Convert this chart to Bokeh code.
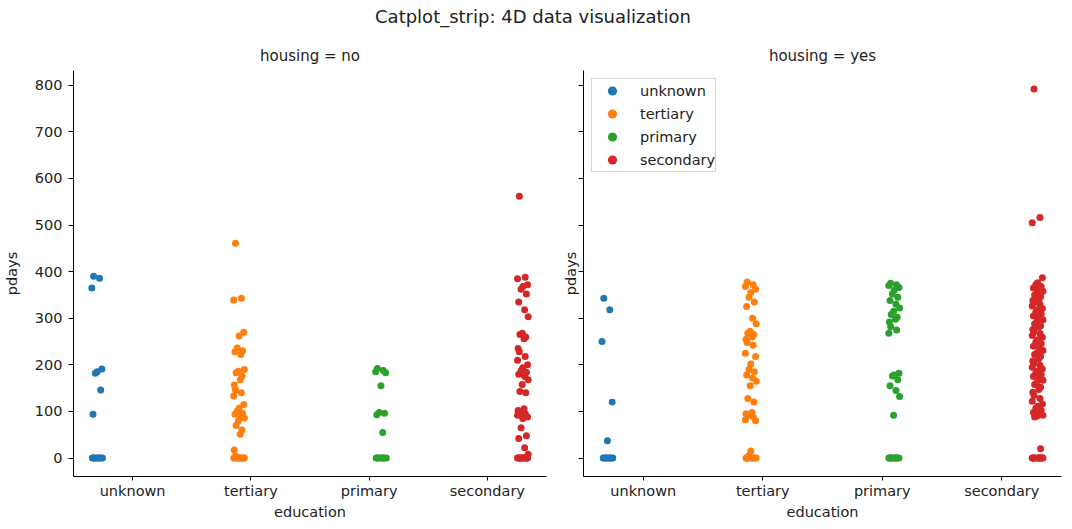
from bokeh.plotting import figure
from bokeh.layouts import column, row
from bokeh.models import Range1d, FixedTicker, Div, Legend, LegendItem, ColumnDataSource
from bokeh.embed import file_html
from bokeh.resources import INLINE

education = ["unknown", "tertiary", "primary", "secondary"]
colors = ["#1f77b4", "#ff7f0e", "#2ca02c", "#d62728"]
y_ticks = [0, 100, 200, 300, 400, 500, 600, 700, 800]

# housing = no
no_unknown = [390, 386, 365, 191, 185, 182, 146, 94, 0, 0, 0, 0, 0, 0, 0, 0]
no_tertiary = [461, 343, 339, 270, 262, 236, 230, 228, 222, 190, 186, 183, 176, 168,
               157, 146, 140, 133, 115, 107, 101, 96, 94, 90, 86, 80, 70, 60, 51, 17, 5,
               0, 0, 0, 0, 0, 0, 0, 0, 0, 0]
no_primary = [192, 188, 185, 183, 155, 98, 96, 93, 55, 0, 0, 0, 0, 0, 0, 0, 0]
no_secondary = [562, 388, 385, 372, 368, 362, 352, 335, 318, 303, 268, 265, 260, 256,
                235, 228, 218, 210, 200, 194, 188, 184, 180, 175, 168, 158, 143, 140,
                106, 102, 98, 95, 92, 88, 85, 65, 48, 42, 22, 8,
                0, 0, 0, 0, 0, 0, 0, 0, 0, 0, 0, 0]

# housing = yes
yes_unknown = [343, 318, 250, 120, 37, 0, 0, 0, 0, 0, 0, 0, 0]
yes_tertiary = [378, 372, 368, 362, 355, 345, 335, 325, 300, 288, 272, 268, 265, 260,
                255, 248, 242, 225, 218, 202, 190, 185, 178, 172, 165, 155, 128, 120,
                98, 95, 92, 88, 82, 80, 15, 5, 0, 0, 0, 0, 0, 0, 0, 0, 0, 0]
yes_primary = [375, 372, 370, 366, 360, 352, 345, 338, 330, 322, 315, 308, 302, 298,
               292, 282, 275, 268, 182, 178, 176, 168, 155, 145, 132, 92,
               0, 0, 0, 0, 0, 0, 0, 0, 0, 0]
yes_secondary = [792, 516, 505, 387, 376, 372, 368, 365, 362, 358, 354, 350, 346, 341,
                 338, 334, 330, 326, 321, 318, 313, 309, 305, 301, 297, 293, 288, 284,
                 281, 276, 271, 267, 263, 259, 254, 249, 245, 240, 236, 231, 226, 222,
                 218, 213, 208, 203, 199, 195, 191, 187, 183, 179, 175, 171, 167, 162,
                 158, 152, 147, 141, 135, 128, 122, 116, 111, 107, 102, 98, 95, 92, 90,
                 88, 20, 0, 0, 0, 0, 0, 0, 0, 0, 0, 0, 0, 0]

panels = [
    ("housing = no", [no_unknown, no_tertiary, no_primary, no_secondary]),
    ("housing = yes", [yes_unknown, yes_tertiary, yes_primary, yes_secondary]),
]

# deterministic strip offsets (dodge per hue + small fixed jitter pattern)
dodge = [-0.3, -0.1, 0.1, 0.3]
jitter_pattern = [-0.03, 0.02, -0.045, 0.04, 0.0, -0.015, 0.03, -0.035, 0.015,
                  0.045, -0.005, -0.025, 0.025, 0.01, -0.04]

FONT = "DejaVu Sans"
TXT = "#222222"


def make_panel(title, groups, first):
    if first:
        w, bl, br = 555, 62, 9
    else:
        w, bl, br = 508, 28, 2
    p = figure(width=w, height=486, output_backend="svg", toolbar_location=None,
               x_range=Range1d(-0.5, 3.5), y_range=Range1d(-39.6, 831.6),
               min_border_left=bl, min_border_right=br, min_border_top=34,
               min_border_bottom=44, title=title)
    p.title.align = "center"
    p.title.text_font = FONT
    p.title.text_font_size = "15px"
    p.title.text_font_style = "normal"
    p.title.text_color = TXT
    p.title.standoff = 11
    p.outline_line_color = None
    p.xgrid.grid_line_color = None
    p.ygrid.grid_line_color = None
    p.background_fill_color = "white"

    p.xaxis.ticker = FixedTicker(ticks=[0, 1, 2, 3])
    p.xaxis.major_label_overrides = {i: e for i, e in enumerate(education)}
    p.yaxis.ticker = FixedTicker(ticks=y_ticks)
    p.xaxis.axis_label = "education"
    p.yaxis.axis_label = "pdays"
    for ax in (p.xaxis[0], p.yaxis[0]):
        ax.axis_line_color = "#000000"
        ax.axis_line_width = 1
        ax.major_tick_line_color = "#000000"
        ax.major_tick_out = 5
        ax.major_tick_in = 0
        ax.minor_tick_line_color = None
        ax.major_label_text_font = FONT
        ax.major_label_text_font_size = "14.5px"
        ax.major_label_text_color = TXT
        ax.axis_label_text_font = FONT
        ax.axis_label_text_font_size = "14.5px"
        ax.axis_label_text_font_style = "normal"
        ax.axis_label_text_color = TXT
    p.xaxis.major_tick_out = 4
    p.xaxis.major_label_standoff = 2
    p.xaxis.axis_label_standoff = 2
    if first:
        p.yaxis.major_label_standoff = 6
        p.yaxis.axis_label_standoff = 12
    else:
        p.yaxis.major_label_overrides = {t: "" for t in y_ticks}
        p.yaxis.major_label_standoff = 0
        p.yaxis.axis_label_standoff = 0

    renderers = []
    for i, vals in enumerate(groups):
        xs = [i + dodge[i] + jitter_pattern[k % len(jitter_pattern)] for k in range(len(vals))]
        src = ColumnDataSource(dict(x=xs, y=vals))
        r = p.scatter("x", "y", source=src, size=7, marker="circle",
                      fill_color=colors[i], line_color=None)
        renderers.append(r)

    if not first:
        legend = Legend(items=[LegendItem(label=education[i], renderers=[renderers[i]])
                               for i in range(4)],
                        location="top_left")
        legend.margin = 8
        legend.padding = 0
        legend.spacing = 0
        legend.glyph_width = 40
        legend.glyph_height = 23
        legend.label_height = 23
        legend.label_standoff = 8
        legend.label_text_font = FONT
        legend.label_text_font_size = "14.5px"
        legend.label_text_color = TXT
        legend.border_line_color = "#cccccc"
        legend.border_line_alpha = 0.8
        legend.background_fill_alpha = 0.8
        p.add_layout(legend)
    return p


p1 = make_panel(panels[0][0], panels[0][1], True)
p2 = make_panel(panels[1][0], panels[1][1], False)

title_div = Div(text="Catplot_strip: 4D data visualization", width=1056, height=26,
                styles={"font-family": FONT, "font-size": "18px", "text-align": "center",
                        "color": TXT, "line-height": "24px", "width": "1056px",
                        "height": "26px", "overflow": "hidden"})

layout = column(title_div, row(p1, p2))
open("out.html", "w").write(file_html(layout, INLINE))
